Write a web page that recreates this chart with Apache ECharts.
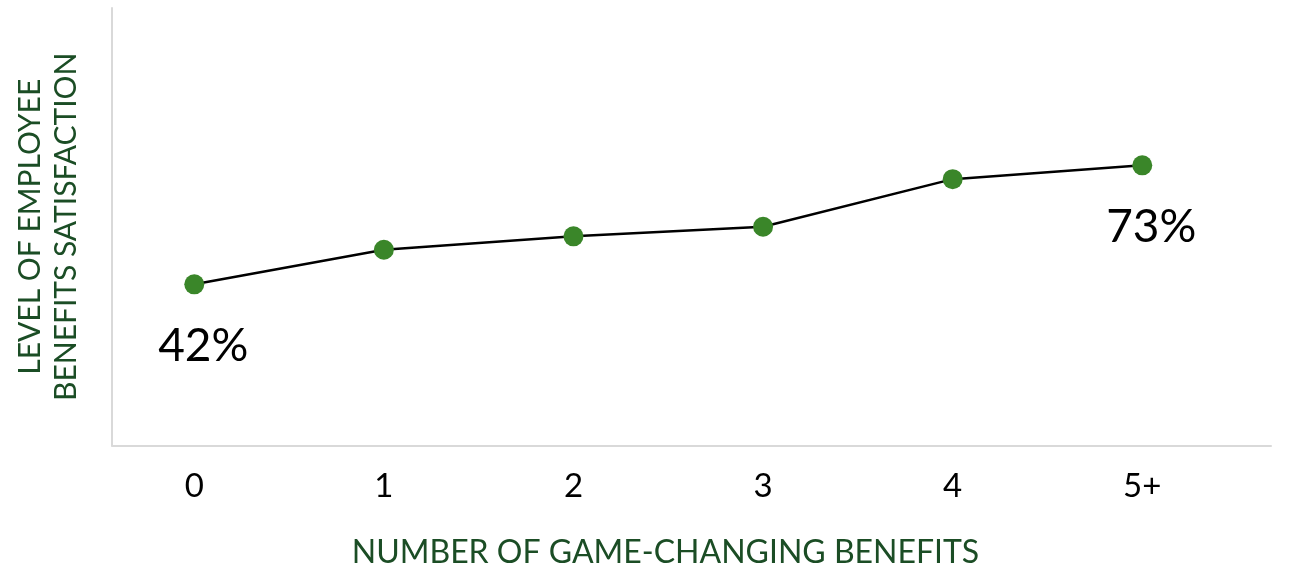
<!DOCTYPE html>
<html lang="en">
<head>
    <meta charset="UTF-8">
    <title>Benefits satisfaction</title>
    <script src="https://cdn.jsdelivr.net/npm/echarts@6/dist/echarts.min.js"></script>
    <style>
        html, body { margin: 0; padding: 0; background: #fff; }
        #main { width: 1313px; height: 573px; }
    </style>
</head>
<body>
<div id="main"></div>
<script>
    // data
    const categories = ['0', '1', '2', '3', '4', '5+'];
    const satisfaction = [42, 51, 54.5, 57, 69.4, 73];
    const labelledIdx = [0, 5]; // only first and last carry a value label

    const green = '#3a8629';
    const titleGreen = '#1b4d25';
    const font = 'Lato';

    const points = satisfaction.map((v, i) => [i, v]);

    var chart = echarts.init(document.getElementById('main'));
    chart.setOption({
        animation: false,
        textStyle: { fontFamily: font },
        grid: { left: 112, right: 42, top: 8, bottom: 127.5, outerBoundsMode: 'none', containLabel: false },
        xAxis: {
            type: 'value',
            min: -0.434,
            max: 5.679,
            splitLine: { show: false },
            axisLine: { show: true, onZero: false, lineStyle: { color: '#d9d9d9', width: 2 } },
            axisTick: { show: false },
            axisLabel: {
                customValues: [0, 1, 2, 3, 4, 5],
                formatter: v => categories[Math.round(v)],
                color: '#000',
                fontSize: 33,
                margin: 24,
                fontFamily: font
            },
            name: 'NUMBER OF GAME-CHANGING BENEFITS',
            nameLocation: 'middle',
            nameGap: 91,
            nameTextStyle: { color: titleGreen, fontSize: 32, fontFamily: font, padding: [0, 52, 0, 0] }
        },
        yAxis: {
            type: 'value',
            min: 0,
            max: 114,
            splitLine: { show: false },
            axisLine: { show: true, onZero: false, lineStyle: { color: '#d9d9d9', width: 2 } },
            axisTick: { show: false },
            axisLabel: { show: false },
            name: 'LEVEL OF EMPLOYEE\nBENEFITS SATISFACTION',
            nameLocation: 'middle',
            nameRotate: 90,
            nameGap: 20,
            nameTextStyle: { color: titleGreen, fontSize: 30, lineHeight: 36, fontFamily: font, padding: [0, 0, 8, 0] }
        },
        series: [{
            type: 'line',
            data: points,
            symbol: 'circle',
            symbolSize: 20,
            lineStyle: { color: '#000', width: 2.5 },
            itemStyle: { color: green },
            z: 3,
            label: {
                show: true,
                position: 'bottom',
                distance: 29,
                offset: [9, 0],
                color: '#000',
                fontSize: 46,
                fontFamily: font,
                formatter: p => labelledIdx.indexOf(p.dataIndex) >= 0 ? p.value[1] + '%' : ''
            }
        }]
    });
</script>
</body>
</html>
